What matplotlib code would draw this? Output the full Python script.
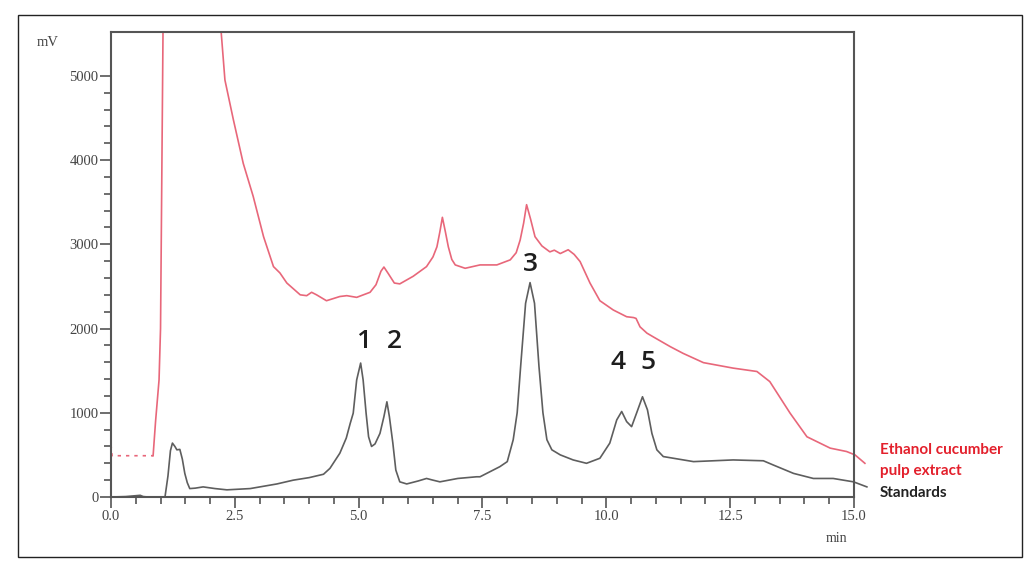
import matplotlib
matplotlib.use("Agg")
import matplotlib.pyplot as plt
from matplotlib.ticker import MultipleLocator, FixedLocator
from matplotlib.patches import Rectangle

# ---- data ----
std_t = [0, 0.3, 0.59, 0.65, 0.75, 1.09, 1.15, 1.2, 1.24, 1.29, 1.33, 1.39, 1.44, 1.49, 1.54, 1.59,
         1.7, 1.86, 2.1, 2.34, 2.81, 3.35, 3.68, 4.0, 4.29, 4.42, 4.62, 4.75, 4.83, 4.89, 4.96, 5.04,
         5.09, 5.15, 5.20, 5.26, 5.33, 5.43, 5.51, 5.57, 5.62, 5.69, 5.75, 5.83, 5.97, 6.2, 6.37,
         6.5, 6.64, 7.0, 7.38, 7.45, 7.85, 8.0, 8.12, 8.2, 8.27, 8.37, 8.46, 8.55, 8.64, 8.72, 8.80,
         8.9, 9.07, 9.33, 9.60, 9.87, 10.07, 10.21, 10.31, 10.41, 10.51, 10.61, 10.73, 10.83, 10.92,
         11.02, 11.15, 11.76, 12.56, 13.17, 13.37, 13.78, 14.18, 14.58, 14.99, 15.26]
std_v = [0, 5, 20, 5, 0, 0, 250, 550, 640, 600, 560, 565, 450, 280, 170, 100,
         105, 120, 100, 85, 100, 155, 200, 230, 270, 340, 520, 700, 875, 995, 1390, 1590,
         1390, 995, 715, 600, 630, 755, 955, 1130, 955, 640, 320, 180, 155, 190, 220,
         200, 180, 220, 240, 240, 360, 420, 680, 1000, 1550, 2300, 2545, 2300, 1550, 1000, 680,
         560, 500, 440, 400, 460, 640, 915, 1015, 895, 835, 995, 1190, 1035, 755,
         560, 480, 420, 440, 430, 380, 280, 220, 220, 180, 120]

ext_pre_t = [0, 0.02, 0.85]
ext_pre_v = [620, 490, 490]

ext_t = [0.85, 0.9, 0.97, 1.0, 1.05, 1.07, 2.2, 2.30, 2.47, 2.67, 2.87, 3.08, 3.28, 3.41, 3.55, 3.82,
         3.95, 4.05, 4.15, 4.35, 4.62, 4.76, 4.96, 5.23, 5.35, 5.45, 5.51, 5.6, 5.72, 5.83, 6.10,
         6.37, 6.50, 6.58, 6.64, 6.69, 6.75, 6.81, 6.88, 6.95, 7.15, 7.45, 7.79, 8.06, 8.18, 8.26,
         8.33, 8.39, 8.47, 8.56, 8.7, 8.86, 8.95, 9.07, 9.23, 9.35, 9.47, 9.67, 9.87, 10.14, 10.41,
         10.55, 10.6, 10.68, 10.82, 10.95, 11.29, 11.55, 11.96, 12.56, 13.04, 13.30, 13.71, 14.05,
         14.52, 14.85, 15.02, 15.22]
ext_v = [490, 900, 1390, 2000, 5520, 5700, 5700, 4950, 4480, 3960, 3570, 3090, 2735, 2660, 2540, 2400,
         2390, 2430, 2400, 2330, 2380, 2390, 2370, 2430, 2520, 2680, 2730, 2650, 2540, 2530, 2620,
         2735, 2850, 2970, 3150, 3320, 3150, 2970, 2820, 2755, 2715, 2755, 2755, 2815, 2900, 3050,
         3250, 3470, 3300, 3090, 2980, 2910, 2930, 2890, 2935, 2880, 2795, 2540, 2330, 2220, 2140,
         2130, 2120, 2020, 1945, 1900, 1785, 1705, 1595, 1530, 1490, 1370, 995, 715,
         580, 540, 500, 400]

peak_labels = ["1", "2", "3", "4", "5"]
peak_x = [5.09, 5.73, 8.46, 10.24, 10.84]
peak_y = [1850, 1850, 2755, 1600, 1600]

x_ticks = [0.0, 2.5, 5.0, 7.5, 10.0, 12.5, 15.0]
y_ticks = [0, 1000, 2000, 3000, 4000, 5000]

# ---- figure ----
fig = plt.figure(figsize=(10.32, 5.63), dpi=100)
fig.patches.append(Rectangle((18/1032, 1-557/563), (1022-18)/1032, (557-15)/563,
                             transform=fig.transFigure, fill=False, edgecolor='#222222', lw=1.0))

ax = fig.add_axes([111/1032, 1-497/563, (854-111)/1032, (497-32)/563])
axis_c = '#555555'
line_red = '#e8677a'
line_blk = '#5e5e5e'

ax.set_xlim(0, 15)
ax.set_ylim(0, 5520)

top_clip = Rectangle((-1, -500), 17, 6020, transform=ax.transData)

ax.plot(ext_pre_t, ext_pre_v, color=line_red, lw=1.2, ls=(0, (2, 3)), clip_on=False)
red_line, = ax.plot(ext_t, ext_v, color=line_red, lw=1.2)
red_line.set_clip_path(top_clip)
blk_line, = ax.plot(std_t, std_v, color=line_blk, lw=1.2)
blk_line.set_clip_path(top_clip)

for lbl, x, y in zip(peak_labels, peak_x, peak_y):
    ax.text(x, y, lbl, ha='center', va='center', fontsize=19, family='Open Sans',
            fontweight='semibold', color='#1e1e1e')

ax.set_xticks(x_ticks)
ax.set_xticklabels([f"{v:.1f}" for v in x_ticks])
ax.set_yticks(y_ticks)
ax.set_yticklabels([str(v) for v in y_ticks])
ax.xaxis.set_minor_locator(MultipleLocator(0.5))
ax.yaxis.set_minor_locator(FixedLocator(list(range(0, 5001, 200))))

for lab in ax.get_xticklabels() + ax.get_yticklabels():
    lab.set_family('Liberation Serif')
    lab.set_fontsize(10.5)
    lab.set_color('#444444')

ax.tick_params(which='both', direction='out', color=axis_c, width=1.2, top=False, right=False)
ax.tick_params(which='major', length=8, pad=1)
ax.tick_params(which='minor', length=5)
for s in ax.spines.values():
    s.set_color(axis_c)
    s.set_linewidth(1.5)

fig.text(48/1032, 1-43/563, "mV", family='Liberation Serif', fontsize=10.5, color='#444444',
         ha='center', va='center')
fig.text(836/1032, 1-538/563, "min", family='Liberation Serif', fontsize=10, color='#444444',
         ha='center', va='center')

fig.text(880/1032, 1-450/563, "Ethanol cucumber", family='Lato', fontweight='bold',
         fontsize=11, color='#e3202c', ha='left', va='center')
fig.text(880/1032, 1-471/563, "pulp extract", family='Lato', fontweight='bold',
         fontsize=11, color='#e3202c', ha='left', va='center')
fig.text(880/1032, 1-493/563, "Standards", family='Lato', fontweight='bold',
         fontsize=11, color='#222222', ha='left', va='center')

fig.savefig("out.png", dpi=100)
